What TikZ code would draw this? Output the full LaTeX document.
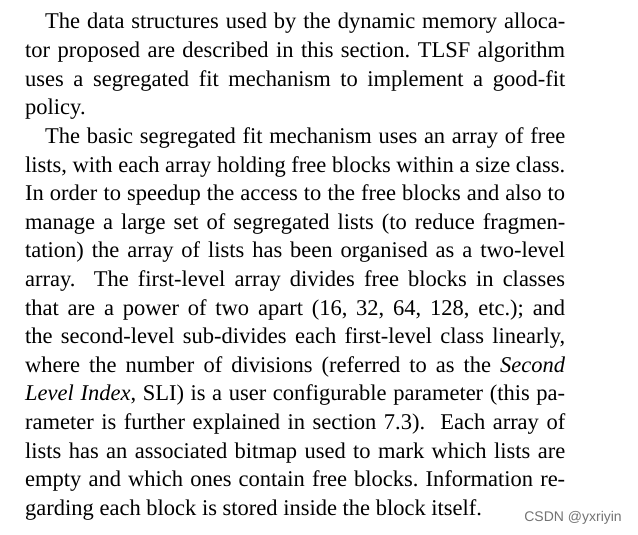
\documentclass[tikz,border=0pt]{standalone}
\usepackage{fontspec}
\setmainfont{Liberation Serif}
\newfontfamily\wm{Liberation Sans}
\begin{document}
\frenchspacing
\begin{tikzpicture}[x=1pt,y=-1pt,
  ln/.style={anchor=base west,inner sep=0pt,font=\fontsize{22.5}{26}\selectfont}]
\useasboundingbox (0,0) rectangle (638,535);
\def\J#1{\makebox[540pt][s]{#1}}
\def\JI#1{\makebox[520pt][s]{#1}}
\node[ln] (l1) at (45,29) {\JI{The data structures used by the dynamic memory alloca-}};
\node[ln] (l2) at (25,57.6) {\J{tor proposed are described in this section. TLSF algorithm}};
\node[ln] (l3) at (25,86.2) {\J{uses a segregated fit mechanism to implement a good-fit}};
\node[ln] (l4) at (25,114.8) {policy.};
\node[ln] (l5) at (45,143.4) {\JI{The basic segregated fit mechanism uses an array of free}};
\node[ln] (l6) at (25,172) {\J{lists, with each array holding free blocks within a size class.}};
\node[ln] (l7) at (25,200.6) {\J{In order to speedup the access to the free blocks and also to}};
\node[ln] (l8) at (25,229.2) {\J{manage a large set of segregated lists (to reduce fragmen-}};
\node[ln] (l9) at (25,257.8) {\J{tation) the array of lists has been organised as a two-level}};
\node[ln] (l10) at (25,286.4) {\J{array.\ \ The first-level array divides free blocks in classes}};
\node[ln] (l11) at (25,315) {\J{that are a power of two apart (16, 32, 64, 128, etc.); and}};
\node[ln] (l12) at (25,343.6) {\J{the second-level sub-divides each first-level class linearly,}};
\node[ln] (l13) at (25,372.2) {\J{where the number of divisions (referred to as the \textit{Second}}};
\node[ln] (l14) at (25,400.8) {\J{\textit{Level Index}, SLI) is a user configurable parameter (this pa-}};
\node[ln] (l15) at (25,429.4) {\J{rameter is further explained in section 7.3).\ \ Each array of}};
\node[ln] (l16) at (25,458) {\J{lists has an associated bitmap used to mark which lists are}};
\node[ln] (l17) at (25,486.6) {\J{empty and which ones contain free blocks. Information re-}};
\node[ln] (l18) at (25,515.2) {garding each block is stored inside the block itself.};
\node[anchor=base east,inner sep=0pt,font=\wm\fontsize{14}{16}\selectfont,text=black!55] (wm) at (622,521) {CSDN @yxriyin};
\end{tikzpicture}
\end{document}
